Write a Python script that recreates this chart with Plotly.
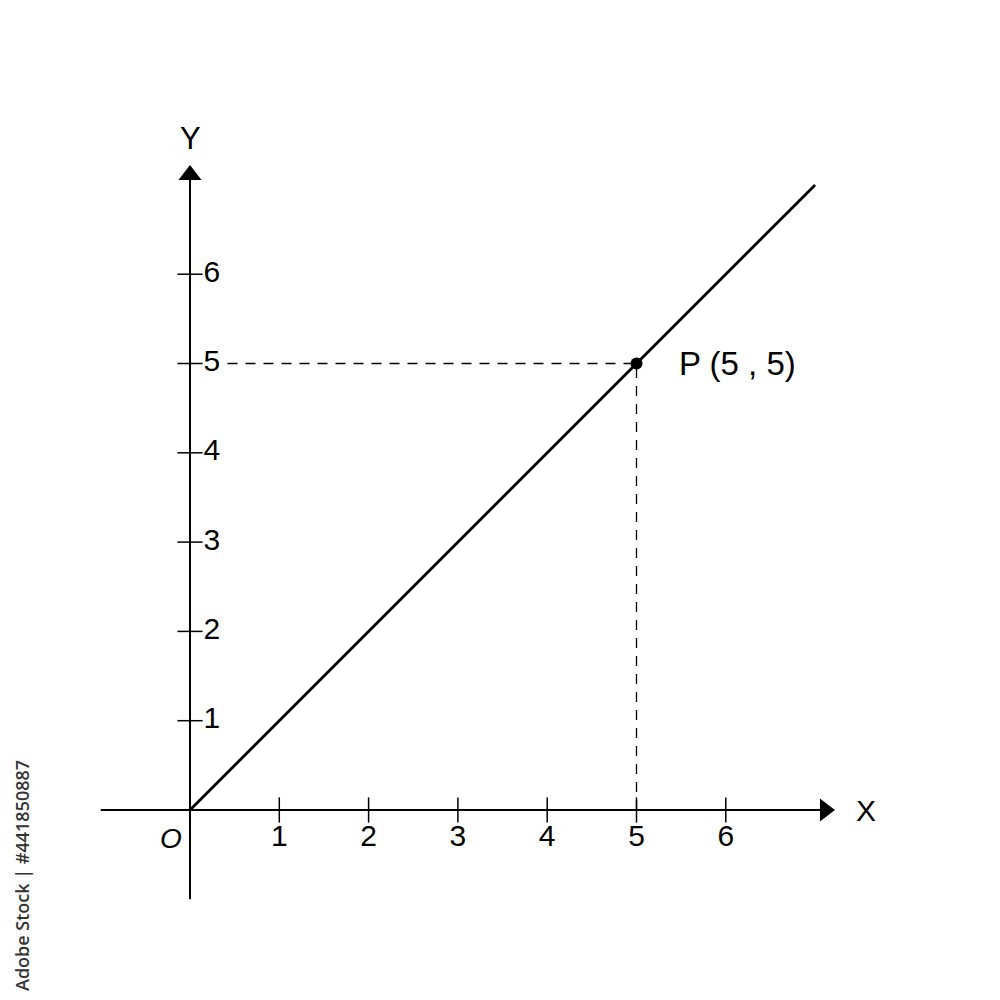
import plotly.graph_objects as go

# values
ticks = [1, 2, 3, 4, 5, 6]
tick_labels = ["1", "2", "3", "4", "5", "6"]
line_x = [0, 7]
line_y = [0, 7]
px, py = 5, 5
point_label = "P (5 , 5)"

axis_min = -1.0
axis_max = 7.22

font = "Liberation Sans, Arial, sans-serif"
black = "#000000"
unit = 89.3  # pixels per unit

fig = go.Figure()

# axes
fig.add_trace(go.Scatter(x=[axis_min, axis_max - 0.15], y=[0, 0], mode="lines",
                         line=dict(color=black, width=2), hoverinfo="skip"))
fig.add_trace(go.Scatter(x=[0, 0], y=[axis_min, axis_max - 0.15], mode="lines",
                         line=dict(color=black, width=2), hoverinfo="skip"))
# arrow heads
fig.add_trace(go.Scatter(x=[axis_max - 0.11], y=[0], mode="markers",
                         marker=dict(symbol="triangle-right", size=20, color=black),
                         hoverinfo="skip"))
fig.add_trace(go.Scatter(x=[0], y=[axis_max - 0.11], mode="markers",
                         marker=dict(symbol="triangle-up", size=20, color=black),
                         hoverinfo="skip"))

# tick marks
fig.add_trace(go.Scatter(x=ticks, y=[0] * len(ticks), mode="markers",
                         marker=dict(symbol="line-ns", size=18,
                                     line=dict(color=black, width=1.5)),
                         hoverinfo="skip"))
fig.add_trace(go.Scatter(x=[0] * len(ticks), y=ticks, mode="markers",
                         marker=dict(symbol="line-ew", size=18,
                                     line=dict(color=black, width=1.5)),
                         hoverinfo="skip"))

# tick labels
fig.add_trace(go.Scatter(x=ticks, y=[-0.32] * len(ticks), mode="text",
                         text=tick_labels, textposition="middle center",
                         textfont=dict(family=font, size=30, color=black),
                         hoverinfo="skip"))
fig.add_trace(go.Scatter(x=[0.15] * len(ticks), y=ticks, mode="text",
                         text=tick_labels, textposition="middle right",
                         textfont=dict(family=font, size=30, color=black),
                         hoverinfo="skip"))

# dashed guide lines to P
fig.add_trace(go.Scatter(x=[0.42, px], y=[py, py], mode="lines",
                         line=dict(color=black, width=1.3, dash="10px,8px"),
                         hoverinfo="skip"))
fig.add_trace(go.Scatter(x=[px, px], y=[0, py], mode="lines",
                         line=dict(color=black, width=1.3, dash="10px,8px"),
                         hoverinfo="skip"))

# y = x line
fig.add_trace(go.Scatter(x=line_x, y=line_y, mode="lines",
                         line=dict(color=black, width=2.8), hoverinfo="skip"))

# the point
fig.add_trace(go.Scatter(x=[px], y=[py], mode="markers",
                         marker=dict(size=12, color=black), hoverinfo="skip"))

fig.add_annotation(x=px + 0.45, y=py, text=point_label, showarrow=False,
                   xanchor="left", yanchor="middle",
                   font=dict(family=font, size=33, color=black))
fig.add_annotation(x=7.57, y=0, text="X", showarrow=False,
                   xanchor="center", yanchor="middle",
                   font=dict(family=font, size=30, color=black))
fig.add_annotation(x=0, y=7.52, text="Y", showarrow=False,
                   xanchor="center", yanchor="middle",
                   font=dict(family=font, size=31, color=black))
fig.add_annotation(x=-0.213, y=-0.32, text="<i>O</i>", showarrow=False,
                   xanchor="center", yanchor="middle",
                   font=dict(family=font, size=28, color=black))

# stock id strip on the left edge
fig.add_annotation(x=0.014, y=0.132, xref="paper", yref="paper",
                   text="Adobe Stock | #441850887", showarrow=False,
                   textangle=-90, xanchor="center", yanchor="middle",
                   font=dict(family="Open Sans, sans-serif", size=18,
                             color="#333333", weight=600))

# origin sits at (182, 802) inside the figure; page adds an 8px body margin
ox, oy = 182, 802
fig.update_layout(
    width=1000, height=1000,
    margin=dict(l=0, r=0, t=0, b=0),
    paper_bgcolor="white", plot_bgcolor="white",
    showlegend=False,
    xaxis=dict(range=[-ox / unit, (1000 - ox) / unit], visible=False, fixedrange=True),
    yaxis=dict(range=[-(1000 - oy) / unit, oy / unit], visible=False, fixedrange=True),
)

fig.write_html("out.html")
